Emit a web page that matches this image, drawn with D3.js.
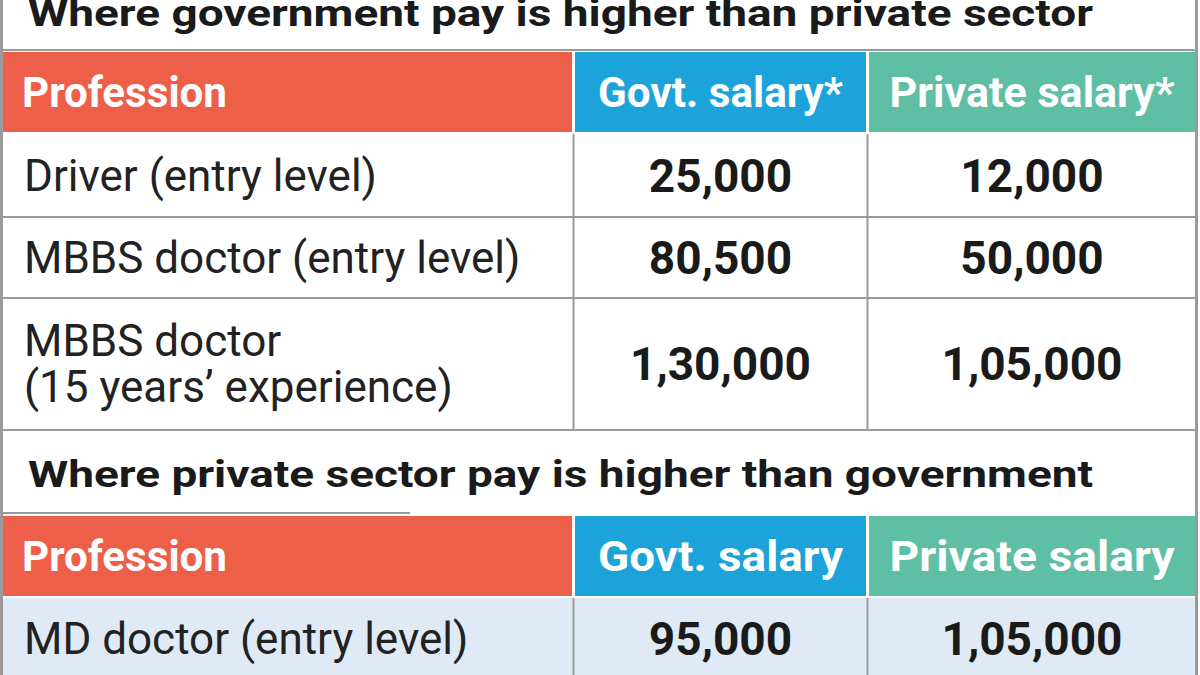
<!DOCTYPE html>
<html><head><meta charset="utf-8">
<script src="https://cdn.jsdelivr.net/npm/d3@7"></script>
<style>body{margin:0;background:#fff}svg{display:block}</style>
</head><body>
<script>
var headers1 = ['Profession', 'Govt. salary*', 'Private salary*'];
var headers2 = ['Profession', 'Govt. salary', 'Private salary'];
var rows1 = [
  {job: ['Driver (entry level)'], govt: '25,000', priv: '12,000'},
  {job: ['MBBS doctor (entry level)'], govt: '80,500', priv: '50,000'},
  {job: ['MBBS doctor', '(15 years\u2019 experience)'], govt: '1,30,000', priv: '1,05,000'}
];
var rows2 = [
  {job: ['MD doctor (entry level)'], govt: '95,000', priv: '1,05,000'}
];
var titles = ['Where government pay is higher than private sector',
  'Where private sector pay is higher than government'];

var W = 1200, H = 675;
var svg = d3.select('body').append('svg').attr('width', W).attr('height', H);
var headColors = ['#ee5f4a', '#1ba3da', '#5ebfa4'];
var cols = [[0, 572], [575, 866], [869, 1195]];
var grid = '#9a9a9a';
var font = 'Roboto, "Open Sans", sans-serif';

function title(txt, y) {
  svg.append('text').attr('x', 28).attr('y', y).text(txt)
    .attr('font-family', font).attr('font-weight', 700).attr('font-size', 37)
    .attr('fill', '#1a1a1a').attr('textLength', 1065).attr('lengthAdjust', 'spacingAndGlyphs');
}

function header(labels, y0, y1) {
  labels.forEach(function (l, i) {
    svg.append('rect').attr('x', cols[i][0]).attr('y', y0)
      .attr('width', cols[i][1] - cols[i][0]).attr('height', y1 - y0).attr('fill', headColors[i]);
    var t = svg.append('text').attr('y', (y0 + y1) / 2 + 15).text(l)
      .attr('font-family', font).attr('font-weight', 700).attr('font-size', 42)
      .attr('fill', '#fff').attr('lengthAdjust', 'spacingAndGlyphs');
    if (i === 0) t.attr('x', 22).attr('textLength', 205);
    else t.attr('x', (cols[i][0] + cols[i][1]) / 2).attr('text-anchor', 'middle')
      .attr('textLength', i === 1 ? 245 : 285);
  });
}

function body(rows, bounds, bg) {
  rows.forEach(function (r, k) {
    var y0 = bounds[k], y1 = bounds[k + 1], mid = (y0 + y1) / 2;
    if (bg) svg.append('rect').attr('x', 0).attr('y', y0).attr('width', 1195)
      .attr('height', y1 - y0).attr('fill', bg);
    r.job.forEach(function (line, j) {
      svg.append('text').attr('x', 24).attr('y', mid + 15 + (j - (r.job.length - 1) / 2) * 46)
        .text(line).attr('font-family', font).attr('font-size', 44).attr('fill', '#222');
    });
    [r.govt, r.priv].forEach(function (v, i) {
      svg.append('text').attr('x', (cols[i + 1][0] + cols[i + 1][1]) / 2).attr('y', mid + 16)
        .attr('text-anchor', 'middle').text(v)
        .attr('font-family', font).attr('font-weight', 700).attr('font-size', 46).attr('fill', '#1a1a1a');
    });
    svg.append('line').attr('x1', 0).attr('x2', 1197).attr('y1', y1).attr('y2', y1)
      .attr('stroke', grid).attr('stroke-width', 2);
  });
  [573.5, 867.5].forEach(function (x) {
    svg.append('line').attr('x1', x).attr('x2', x).attr('y1', bounds[0])
      .attr('y2', bounds[bounds.length - 1]).attr('stroke', grid).attr('stroke-width', 2);
  });
}

title(titles[0], 26);
svg.append('line').attr('x1', 0).attr('x2', 1197).attr('y1', 50).attr('y2', 50).attr('stroke', grid).attr('stroke-width', 2);
header(headers1, 52, 132);
body(rows1, [134, 217, 298, 430]);
title(titles[1], 487);
svg.append('line').attr('x1', 0).attr('x2', 410).attr('y1', 513).attr('y2', 513).attr('stroke', grid).attr('stroke-width', 2);
header(headers2, 516, 596);
body(rows2, [598, 680], '#dfeaf6');
// outer side borders
[1.5, 1196.5].forEach(function (x) {
  svg.append('line').attr('x1', x).attr('x2', x).attr('y1', 0).attr('y2', H)
    .attr('stroke', grid).attr('stroke-width', 3);
});
</script>
</body></html>
